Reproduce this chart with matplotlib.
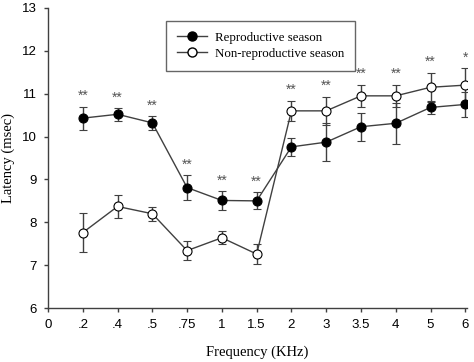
import matplotlib

matplotlib.use("Agg")
import matplotlib.pyplot as plt
import numpy as np
from matplotlib.lines import Line2D

# valores
freq_labels = ["0", ".2", ".4", ".5", ".75", "1", "1.5", "2", "3", "3.5", "4", "5", "6"]
repro_mean = [10.43, 10.52, 10.32, 8.81, 8.51, 8.50, 9.76, 9.87, 10.23, 10.31, 10.68, 10.75]
repro_err = [0.27, 0.15, 0.16, 0.30, 0.22, 0.20, 0.21, 0.44, 0.33, 0.48, 0.15, 0.29]
nonrepro_mean = [7.76, 8.37, 8.20, 7.34, 7.64, 7.26, 10.60, 10.60, 10.95, 10.95, 11.15, 11.20]
nonrepro_err = [0.45, 0.27, 0.16, 0.23, 0.15, 0.23, 0.24, 0.33, 0.26, 0.26, 0.34, 0.40]
signif = ["**", "**", "**", "**", "**", "**", "**", "**", "**", "**", "**", "*"]

SERIF = "Liberation Serif"
SANS = "Liberation Sans"
COR = "#404040"

fig = plt.figure(figsize=(4.74, 3.62), dpi=100)
ax = fig.add_axes([0.1013, 0.149, 0.884, 0.829])

x = np.arange(1, len(repro_mean) + 1)
estilo = dict(color=COR, ecolor=COR, elinewidth=1, capsize=3, capthick=1,
              lw=1, markersize=6.5, markeredgecolor="black", markeredgewidth=0.8)
ax.errorbar(x, nonrepro_mean, yerr=nonrepro_err, fmt="o-", markerfacecolor="white",
            zorder=3, **estilo)
ax.errorbar(x, repro_mean, yerr=repro_err, fmt="o-", markerfacecolor="black",
            zorder=4, **estilo)

# asteriscos acima da barra de erro mais alta
for xi, m1, e1, m2, e2, s in zip(x, repro_mean, repro_err, nonrepro_mean,
                                 nonrepro_err, signif):
    topo = max(m1 + e1, m2 + e2)
    ax.text(xi, topo + 0.08, s, ha="center", va="bottom", fontsize=10,
            color="#555555", family=SANS)

ax.set_xlim(0, 12.05)
ax.set_ylim(6, 13)
ax.set_xticks(np.arange(len(freq_labels)))
ax.set_xticklabels(freq_labels)
ax.set_yticks(range(6, 14))
for lab in ax.get_xticklabels() + ax.get_yticklabels():
    lab.set_family(SANS)
    lab.set_fontsize(9.5)
ax.tick_params(direction="out", length=3, width=1, color=COR, pad=5)
ax.spines["top"].set_visible(False)
ax.spines["right"].set_visible(False)
for s in ("left", "bottom"):
    ax.spines[s].set_color(COR)
    ax.spines[s].set_linewidth(1)

ax.set_xlabel("Frequency (KHz)", family=SERIF, fontsize=10.5, va="center")
ax.xaxis.set_label_coords(0.5, -0.147)
ax.set_ylabel("Latency (msec)", family=SERIF, fontsize=10.5, va="center")
ax.yaxis.set_label_coords(-0.094, 0.5)

handles = [
    Line2D([], [], color=COR, lw=1, marker="o", markersize=6.5,
           markerfacecolor="black", markeredgecolor="black"),
    Line2D([], [], color=COR, lw=1, marker="o", markersize=6.5,
           markerfacecolor="white", markeredgecolor="black"),
]
leg = ax.legend(handles, ["Reproductive season", "Non-reproductive season"],
                loc="upper left", bbox_to_anchor=(0.282, 0.957), borderaxespad=0,
                prop={"family": SERIF, "size": 9.3}, frameon=True, fancybox=False,
                handlelength=2.3, handletextpad=0.6, borderpad=0.85,
                labelspacing=0.3)
leg.get_frame().set_edgecolor(COR)
leg.get_frame().set_linewidth(1)

fig.savefig("out.png", dpi=100)
